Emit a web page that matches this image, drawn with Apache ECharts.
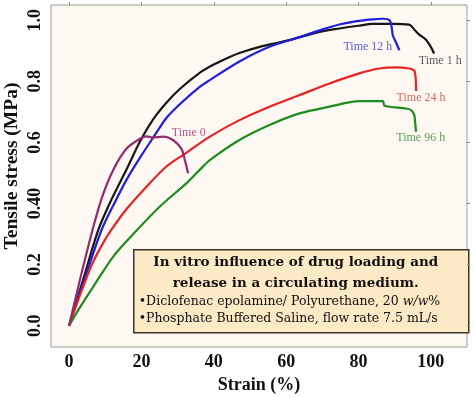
<!DOCTYPE html>
<html>
<head>
<meta charset="utf-8">
<title>Tensile stress vs strain</title>
<script src="https://cdn.jsdelivr.net/npm/echarts@6/dist/echarts.min.js"></script>
<style>
  * { margin: 0; padding: 0; }
  body { background: #ffffff; }
  #main { width: 474px; height: 397px; }
</style>
</head>
<body>
<div id="main"></div>
<script>
// strain (%), stress (MPa) pairs
var time1h = [[0,0],[4,0.155],[8.1,0.314],[11.8,0.415],[15.9,0.512],[19.6,0.603],[23.2,0.675],[26.9,0.73],[30.6,0.775],[36.1,0.828],[40,0.855],[44.4,0.88],[47.1,0.893],[52.7,0.913],[60.9,0.935],[69.2,0.962],[74.7,0.973],[80,0.982],[83.9,0.988],[89.4,0.988],[94,0.986],[95.4,0.97],[96.8,0.953],[98.6,0.937],[100,0.913],[100.9,0.891]];
var time12h = [[0,0],[4.5,0.16],[9,0.314],[12.7,0.405],[15.9,0.478],[19.6,0.55],[23.2,0.615],[26.9,0.68],[30.6,0.725],[36.1,0.782],[38.9,0.804],[47.1,0.865],[55.4,0.913],[63.7,0.945],[69.2,0.967],[74.7,0.986],[78.4,0.995],[83.9,1.003],[86.7,1.005],[88.6,1.0],[89.2,0.975],[89.5,0.95],[90.3,0.929],[91.3,0.902]];
var time24h = [[0,0],[3,0.1],[6.3,0.2],[9,0.262],[11.7,0.314],[15.9,0.382],[21.4,0.455],[26.9,0.521],[32.4,0.566],[38.9,0.619],[47.1,0.673],[55.4,0.717],[63.7,0.755],[72,0.793],[80.2,0.826],[85.7,0.842],[90.3,0.846],[94,0.842],[95.4,0.835],[95.8,0.81],[95.9,0.768]];
var time96h = [[0,0],[3,0.06],[6.7,0.128],[12.2,0.226],[16.8,0.288],[25.1,0.39],[32.4,0.466],[36.1,0.51],[38.9,0.542],[47.1,0.608],[55.4,0.657],[63.7,0.695],[72,0.717],[80.2,0.735],[86.7,0.735],[87.2,0.72],[93.1,0.711],[94.5,0.706],[95.4,0.69],[95.7,0.66],[95.9,0.635]];
var time0 = [[0,0],[3,0.15],[6.4,0.31],[9.1,0.42],[12.2,0.51],[15.9,0.58],[19.6,0.612],[21.4,0.62],[23,0.616],[26,0.619],[28.8,0.607],[31.1,0.578],[32,0.542],[32.9,0.499]];

var curveNames = ['Time 1 h', 'Time 12 h', 'Time 24 h', 'Time 96 h', 'Time 0'];
var curveColors = ['#161616', '#1f1fe0', '#e82222', '#1e8c1e', '#962a6e'];
var labelColors = ['#333333', '#3535c8', '#d23c3c', '#2e8a2e', '#a0306e'];
// label centres in data units
var labelPos = [[102.6, 0.866], [82.6, 0.913], [97.3, 0.745], [97.2, 0.614], [33.1, 0.631]];

var xTicks = [0, 20, 40, 60, 80, 100];
var yTicks = [0, 0.2, 0.4, 0.6, 0.8, 1.0];
var yTickText = ['0.0', '0.2', '0.40', '0.6', '0.8', '1.0'];

var boxTitle = ['In vitro influence of drug loading and', 'release in a circulating medium.'];

var serif = 'Liberation Serif';
var boxFont = 'DejaVu Serif';
var curves = [time1h, time12h, time24h, time96h, time0];

var series = curves.map(function (d, i) {
  return {
    name: curveNames[i],
    type: 'line',
    data: d,
    showSymbol: false,
    smooth: 0.3,
    lineStyle: { width: 2.2, color: curveColors[i] },
    z: 3
  };
});

series.push({
  type: 'scatter',
  symbolSize: 0,
  data: labelPos.map(function (p, i) {
    return {
      value: p,
      label: {
        show: true,
        position: 'inside',
        formatter: curveNames[i],
        color: labelColors[i],
        fontFamily: serif,
        fontSize: 12
      }
    };
  }),
  silent: true,
  z: 4
});

var hiddenAxis = {
  axisLine: { show: false, onZero: false },
  splitLine: { show: false },
  axisLabel: { show: false }
};

var chart = echarts.init(document.getElementById('main'), null, { renderer: 'canvas' });

chart.setOption({
  backgroundColor: '#ffffff',
  animation: false,
  grid: {
    left: 51, top: 5, right: 7, bottom: 50,
    outerBoundsMode: 'none',
    containLabel: false,
    show: true,
    backgroundColor: '#fdf9f2',
    borderColor: '#9a9a9a',
    borderWidth: 1
  },
  xAxis: [{
    type: 'value',
    min: -5,
    max: 110,
    name: 'Strain (%)',
    nameLocation: 'middle',
    nameGap: 27,
    nameTextStyle: { fontFamily: serif, fontWeight: 'bold', fontSize: 18, color: '#111' },
    axisLine: { show: false, onZero: false },
    splitLine: { show: false },
    axisTick: { show: false },
    axisLabel: {
      customValues: xTicks,
      fontFamily: serif, fontWeight: 'bold', fontSize: 18, color: '#111', margin: 6
    }
  }, Object.assign({
    type: 'value', position: 'top', min: -5, max: 110,
    axisTick: { show: true, length: 3, customValues: xTicks, lineStyle: { color: '#8a8a8a' } }
  }, hiddenAxis)],
  yAxis: [{
    type: 'value',
    min: -0.07,
    max: 1.05,
    axisLine: { show: false, onZero: false },
    splitLine: { show: false },
    axisTick: { show: false },
    axisLabel: {
      customValues: yTicks,
      rotate: 90,
      fontFamily: serif, fontWeight: 'bold', fontSize: 18, color: '#111', margin: 7,
      formatter: function (v) {
        var k = yTicks.findIndex(function (t) { return Math.abs(t - v) < 1e-6; });
        return k >= 0 ? yTickText[k] : '';
      }
    }
  }, Object.assign({
    type: 'value', position: 'right', min: -0.07, max: 1.05,
    axisTick: { show: true, length: 3, customValues: yTicks, lineStyle: { color: '#8a8a8a' } }
  }, hiddenAxis)],
  series: series,
  graphic: [
    {
      type: 'text',
      x: 12, y: 166,
      rotation: Math.PI / 2,
      style: {
        text: 'Tensile stress (MPa)',
        align: 'center', verticalAlign: 'middle',
        fontFamily: serif, fontWeight: 'bold', fontSize: 19.5, fill: '#111'
      }
    },
    {
      type: 'group',
      left: 133,
      top: 249,
      children: [
        {
          type: 'rect',
          shape: { x: 0, y: 0, width: 335, height: 83 },
          style: { fill: '#fce9c5', stroke: '#3d3528', lineWidth: 1.5 }
        },
        {
          type: 'text',
          x: 162, y: 13,
          style: {
            text: boxTitle[0],
            align: 'center', verticalAlign: 'middle',
            fontFamily: boxFont, fontWeight: 'bold', fontSize: 13.5, fill: '#111'
          }
        },
        {
          type: 'text',
          x: 162, y: 34,
          style: {
            text: boxTitle[1],
            align: 'center', verticalAlign: 'middle',
            fontFamily: boxFont, fontWeight: 'bold', fontSize: 13.5, fill: '#111'
          }
        },
        {
          type: 'text',
          x: 5, y: 52,
          style: {
            text: '{n|\u2022Diclofenac epolamine/ Polyurethane, 20 }{i|w/w}{n|%}',
            verticalAlign: 'middle',
            rich: {
              n: { fontFamily: boxFont, fontSize: 12.5, fill: '#111' },
              i: { fontFamily: boxFont, fontSize: 12.5, fontStyle: 'italic', fill: '#111' }
            }
          }
        },
        {
          type: 'text',
          x: 5, y: 69,
          style: {
            text: '\u2022Phosphate Buffered Saline, flow rate 7.5 mL/s',
            verticalAlign: 'middle',
            fontFamily: boxFont, fontSize: 12.5, fill: '#111'
          }
        }
      ]
    }
  ]
});
</script>
</body>
</html>
